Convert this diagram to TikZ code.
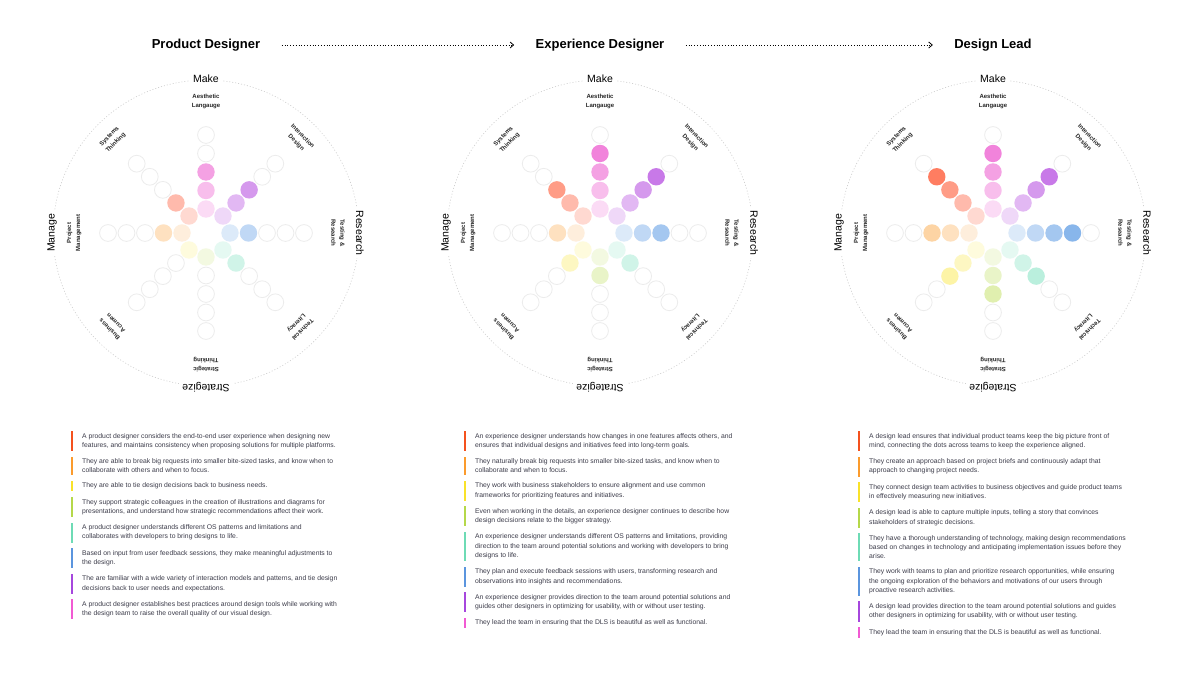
\documentclass[tikz,border=0pt]{standalone}
\usepackage{fontspec}
\setmainfont{Liberation Sans}
\usetikzlibrary{arrows.meta,positioning}
\definecolor{cpink}{HTML}{F07AD8}
\definecolor{cpurple}{HTML}{C46FE6}
\definecolor{cblue}{HTML}{7FB0EA}
\definecolor{cteal}{HTML}{9EE9CF}
\definecolor{clime}{HTML}{D3E88F}
\definecolor{cyellow}{HTML}{FCEF82}
\definecolor{corange}{HTML}{FDC27F}
\definecolor{cred}{HTML}{FF7355}
\definecolor{bred}{HTML}{F4511E}
\definecolor{borange}{HTML}{FB9B2D}
\definecolor{byellow}{HTML}{F9E22A}
\definecolor{blime}{HTML}{B5D84A}
\definecolor{bteal}{HTML}{6EDBB5}
\definecolor{bblue}{HTML}{5B95DE}
\definecolor{bpurple}{HTML}{A647DD}
\definecolor{bpink}{HTML}{F15AD3}
\definecolor{txt}{HTML}{3C3C4A}
\newcommand\myradar[9]{%
\begin{scope}[shift={(#1,455)}]
\draw[gray!40, line width=0.6pt, dash pattern=on 1pt off 2pt] (0,0) circle (153);
\foreach \ang/\col/\lev in {90/cpink/#2,45/cpurple/#3,0/cblue/#4,-45/cteal/#5,-90/clime/#6,-135/cyellow/#7,180/corange/#8,135/cred/#9}{
  \foreach \k in {1,...,5}{
    \pgfmathsetmacro\rr{24+18.5*(\k-1)}
    \pgfmathtruncatemacro\pct{5+22*\k}
    \ifnum\k>\lev
      \draw[gray!15, line width=0.8pt] (\ang:\rr) circle (8.4);
    \else
      \fill[\col!\pct!white] (\ang:\rr) circle (8.7);
    \fi
  }
}
\foreach \ang/\txt [count=\i] in {90/{Aesthetic\\Langauge},45/{Interaction\\Design},0/{Testing \&\\Research},-45/{Technical\\Literacy},-90/{Strategic\\Thinking},-135/{Business\\Acumen},180/{Project\\Management},135/{Systems\\Thinking}}{
  \node[cat, rotate=\ang-90] (cat-#1-\i) at (\ang:132) {\txt};
}
\node[compass] (mk-#1) at (90:154) {Make};
\node[compass, rotate=-90] (rs-#1) at (0:154) {Research};
\node[compass, rotate=180] (st-#1) at (-90:154) {Strategize};
\node[compass, rotate=90] (mg-#1) at (180:154) {Manage};
\end{scope}}
\tikzset{
  cat/.style={align=center, font=\bfseries\fontsize{6}{9}\selectfont, text=black!85, inner sep=0pt},
  compass/.style={fill=white, font=\fontsize{10.5}{12}\selectfont, inner sep=3pt, text=black},
  title/.style={font=\bfseries\fontsize{13}{15}\selectfont, text=black},
  flow/.style={dotted, line width=0.8pt, -{Straight Barb[length=3.5pt,width=6pt]}},
  desc/.style={align=left, anchor=north west, inner sep=0pt, text=txt, font=\fontsize{6.8}{9.3}\selectfont},
  nxt/.style={below=9.5pt of #1.south west, anchor=north west},
}
\newcommand\mybar[2]{\fill[#2] ([xshift=-11.5pt,yshift=2pt]#1.north west) rectangle ([xshift=-9pt,yshift=-2pt]#1.south west);}
\begin{document}
\begin{tikzpicture}[x=1pt,y=1pt]
\useasboundingbox (0,0) rectangle (1200,688);
\fill[white] (0,0) rectangle (1200,688);
% titles
\node[title] (t1) at (206,643) {Product Designer};
\node[title] (t2) at (600,643) {Experience Designer};
\node[title] (t3) at (993,643) {Design Lead};
\draw[flow, shorten <=18pt, shorten >=18pt] (t1.east) -- (t2.west);
\draw[flow, shorten <=18pt, shorten >=18pt] (t2.east) -- (t3.west);
% radars
\myradar{206}{3}{3}{2}{2}{1}{1}{2}{2}
\myradar{600}{4}{4}{3}{2}{2}{2}{2}{3}
\myradar{993}{4}{4}{4}{3}{3}{3}{3}{4}
% column 1
\node[desc] (a1) at (82,255) {A product designer considers the end-to-end user experience when designing new\\features, and maintains consistency when proposing solutions for multiple platforms.};
\node[desc, nxt=a1] (a2) {They are able to break big requests into smaller bite-sized tasks, and know when to\\collaborate with others and when to focus.};
\node[desc, nxt=a2] (a3) {They are able to tie design decisions back to business needs.};
\node[desc, nxt=a3] (a4) {They support strategic colleagues in the creation of illustrations and diagrams for\\presentations, and understand how strategic recommendations affect their work.};
\node[desc, nxt=a4] (a5) {A product designer understands different OS patterns and limitations and\\collaborates with developers to bring designs to life.};
\node[desc, nxt=a5] (a6) {Based on input from user feedback sessions, they make meaningful adjustments to\\the design.};
\node[desc, nxt=a6] (a7) {The are familiar with a wide variety of interaction models and patterns, and tie design\\decisions back to user needs and expectations.};
\node[desc, nxt=a7] (a8) {A product designer establishes best practices around design tools while working with\\the design team to raise the overall quality of our visual design.};
% column 2
\node[desc] (b1) at (475,255) {An experience designer understands how changes in one features affects others, and\\ensures that individual designs and initiatives feed into long-term goals.};
\node[desc, nxt=b1] (b2) {They naturally break big requests into smaller bite-sized tasks, and know when to\\collaborate and when to focus.};
\node[desc, nxt=b2] (b3) {They work with business stakeholders to ensure alignment and use common\\frameworks for prioritizing features and initiatives.};
\node[desc, nxt=b3] (b4) {Even when working in the details, an experience designer continues to describe how\\design decisions relate to the bigger strategy.};
\node[desc, nxt=b4] (b5) {An experience designer understands different OS patterns and limitations, providing\\direction to the team around potential solutions and working with developers to bring\\designs to life.};
\node[desc, nxt=b5] (b6) {They plan and execute feedback sessions with users, transforming research and\\observations into insights and recommendations.};
\node[desc, nxt=b6] (b7) {An experience designer provides direction to the team around potential solutions and\\guides other designers in optimizing for usability, with or without user testing.};
\node[desc, nxt=b7] (b8) {They lead the team in ensuring that the DLS is beautiful as well as functional.};
% column 3
\node[desc] (c1) at (869,255) {A design lead ensures that individual product teams keep the big picture front of\\mind, connecting the dots across teams to keep the experience aligned.};
\node[desc, nxt=c1] (c2) {They create an approach based on project briefs and continuously adapt that\\approach to changing project needs.};
\node[desc, nxt=c2] (c3) {They connect design team activities to business objectives and guide product teams\\in effectively measuring new initiatives.};
\node[desc, nxt=c3] (c4) {A design lead is able to capture multiple inputs, telling a story that convinces\\stakeholders of strategic decisions.};
\node[desc, nxt=c4] (c5) {They have a thorough understanding of technology, making design recommendations\\based on changes in technology and anticipating implementation issues before they\\arise.};
\node[desc, nxt=c5] (c6) {They work with teams to plan and prioritize research opportunities, while ensuring\\the ongoing exploration of the behaviors and motivations of our users through\\proactive research activities.};
\node[desc, nxt=c6] (c7) {A design lead provides direction to the team around potential solutions and guides\\other designers in optimizing for usability, with or without user testing.};
\node[desc, nxt=c7] (c8) {They lead the team in ensuring that the DLS is beautiful as well as functional.};
\foreach \p in {a,b,c}{
  \foreach \i/\cc in {1/bred,2/borange,3/byellow,4/blime,5/bteal,6/bblue,7/bpurple,8/bpink}{
    \mybar{\p\i}{\cc}
  }
}
\end{tikzpicture}
\end{document}
